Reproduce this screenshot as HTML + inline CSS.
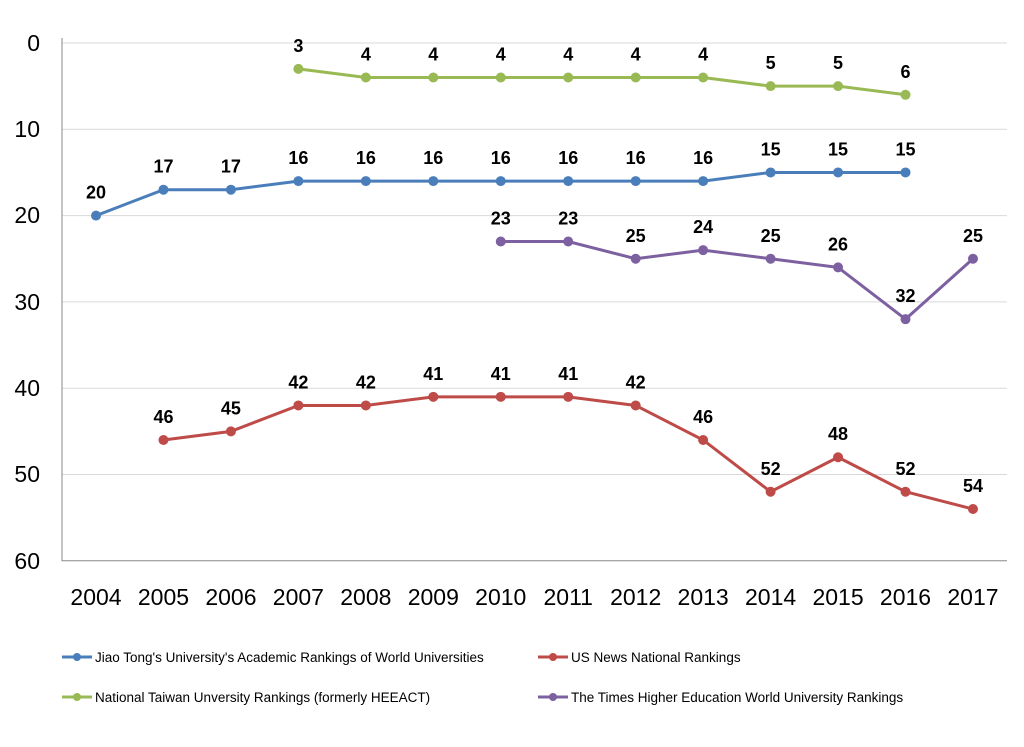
<!DOCTYPE html>
<html><head><style>body{margin:0;background:#fff}svg text{font-family:"Liberation Sans",sans-serif}</style></head>
<body>
<svg width="1024" height="742" xmlns="http://www.w3.org/2000/svg">
<g stroke="#d9d9d9" stroke-width="1">
<line x1="62" y1="43" x2="1007" y2="43"/><line x1="62" y1="129.3" x2="1007" y2="129.3"/>
<line x1="62" y1="215.6" x2="1007" y2="215.6"/><line x1="62" y1="301.9" x2="1007" y2="301.9"/>
<line x1="62" y1="388.2" x2="1007" y2="388.2"/><line x1="62" y1="474.5" x2="1007" y2="474.5"/>
</g>
<line x1="62" y1="38" x2="62" y2="561" stroke="#888" stroke-width="1"/>
<line x1="62" y1="560.8" x2="1007" y2="560.8" stroke="#888" stroke-width="1"/>
<g font-size="23" text-anchor="end" fill="#000">
<text x="40" y="51">0</text><text x="40" y="137">10</text><text x="40" y="223">20</text>
<text x="40" y="310">30</text><text x="40" y="396">40</text><text x="40" y="482">50</text><text x="40" y="569">60</text>
</g>
<g font-size="23" text-anchor="middle" id="xl"></g>
<g id="series"></g>
<g font-size="13.5">
<line x1="62" y1="657" x2="92" y2="657" stroke="#4a7ebb" stroke-width="3"/><circle cx="77" cy="657" r="4" fill="#4a7ebb"/>
<text x="95" y="662">Jiao Tong's University's Academic Rankings of World Universities</text>
<line x1="538" y1="657" x2="568" y2="657" stroke="#be4b48" stroke-width="3"/><circle cx="553" cy="657" r="4" fill="#be4b48"/>
<text x="571" y="662">US News National Rankings</text>
<line x1="62" y1="697" x2="92" y2="697" stroke="#98b954" stroke-width="3"/><circle cx="77" cy="697" r="4" fill="#98b954"/>
<text x="95" y="702">National Taiwan Unversity Rankings (formerly HEEACT)</text>
<line x1="538" y1="697" x2="568" y2="697" stroke="#7d60a0" stroke-width="3"/><circle cx="553" cy="697" r="4" fill="#7d60a0"/>
<text x="571" y="702">The Times Higher Education World University Rankings</text>
</g>
</svg>
<script>
const X=y=>96+(y-2004)*67.46, Y=v=>43+v*8.63;
const ns="http://www.w3.org/2000/svg";
const xl=document.getElementById('xl');
for(let y=2004;y<=2017;y++){const t=document.createElementNS(ns,'text');t.setAttribute('x',X(y));t.setAttribute('y',605);t.textContent=y;xl.appendChild(t);}
const S=[
["#98b954",2007,[3,4,4,4,4,4,4,5,5,6]],
["#4a7ebb",2004,[20,17,17,16,16,16,16,16,16,16,15,15,15]],
["#7d60a0",2010,[23,23,25,24,25,26,32,25]],
["#be4b48",2005,[46,45,42,42,41,41,41,42,46,52,48,52,54]]];
const g=document.getElementById('series');let h='';
for(const [c,s,d] of S){
 const pts=d.map((v,i)=>X(s+i)+','+Y(v)).join(' ');
 h+=`<polyline points="${pts}" fill="none" stroke="${c}" stroke-width="3"/>`;
 d.forEach((v,i)=>{h+=`<circle cx="${X(s+i)}" cy="${Y(v)}" r="5" fill="${c}"/>`;
 h+=`<text x="${X(s+i)}" y="${Y(v)-17}" font-size="18" font-weight="bold" text-anchor="middle">${v}</text>`;});
}
g.innerHTML=h;
</script>
</body></html>
